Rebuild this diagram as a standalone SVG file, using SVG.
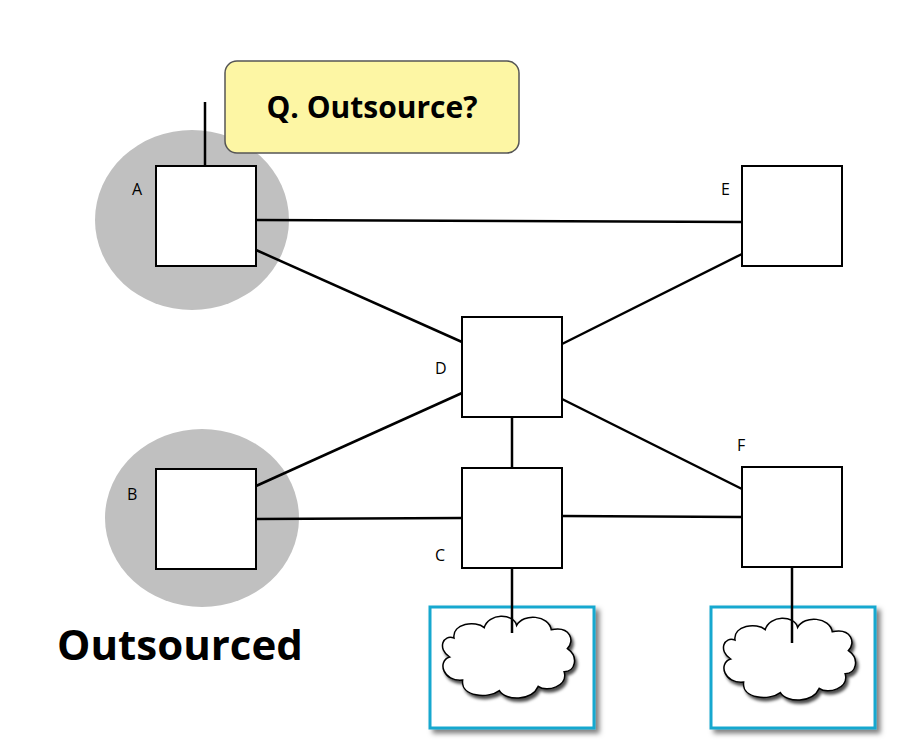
<svg xmlns="http://www.w3.org/2000/svg" width="901" height="751" viewBox="0 0 901 751">
<style>
.box{fill:#fff;stroke:#000;stroke-width:2}
.lbl{font-family:"Open Sans","Liberation Sans",sans-serif;font-size:16px;fill:#000}
.e{stroke:#000;stroke-width:2.5;fill:none}
.cb{fill:#fff;stroke:#16a8cf;stroke-width:3;filter:url(#sh)}
.cl{fill:#fff;stroke:#000;stroke-width:1.4;filter:url(#sh2)}
</style>
<defs>
<filter id="sh" x="-10%" y="-10%" width="130%" height="130%"><feDropShadow dx="4" dy="4" stdDeviation="2.5" flood-color="#000" flood-opacity="0.5"/></filter>
<filter id="sh2" x="-10%" y="-10%" width="130%" height="130%"><feDropShadow dx="2" dy="3" stdDeviation="1.5" flood-color="#000" flood-opacity="0.7"/></filter>
<path id="cloud" d="M-50,-18 C-52,-32 -30,-35 -22,-28 C-18,-42 5,-42 8,-30 C14,-42 38,-40 40,-26 C58,-30 62,-15 55,-8 C66,0 62,14 52,14 C56,28 36,34 28,28 C22,42 -2,42 -8,32 C-18,40 -44,38 -42,22 C-60,24 -66,4 -54,0 C-66,-8 -60,-22 -50,-18 Z"/>
</defs>
<rect width="901" height="751" fill="#fff"/>
<ellipse cx="192" cy="220" rx="97" ry="90" fill="#c0c0c0"/>
<ellipse cx="202" cy="518" rx="97" ry="89" fill="#c0c0c0"/>
<g id="callout"><rect x="225" y="61" width="294" height="92" rx="12" fill="#fdf6a4" stroke="#555" stroke-width="1.5"/>
<text x="372" y="118" text-anchor="middle" font-family="'Open Sans','Liberation Sans',sans-serif" font-size="30" font-weight="bold">Q. Outsource?</text></g>
<g id="cloud1"><rect class="cb" x="430" y="607" width="164" height="121"/><use href="#cloud" class="cl" transform="translate(508,657) scale(1.08,1.05)"/></g>
<g id="cloud2"><rect class="cb" x="711" y="607" width="164" height="121"/><use href="#cloud" class="cl" transform="translate(789,659) scale(1.08,1.05)"/></g>
<g id="connectors">
<line class="e" x1="205" y1="102" x2="205" y2="166"/>
<line class="e" x1="256" y1="220" x2="742" y2="222"/>
<line class="e" x1="256" y1="250" x2="462" y2="342"/>
<line class="e" x1="742" y1="254" x2="562" y2="344"/>
<line class="e" x1="462" y1="393" x2="256" y2="486"/>
<line class="e" x1="512" y1="417" x2="512" y2="468"/>
<line class="e" x1="562" y1="399" x2="742" y2="489"/>
<line class="e" x1="256" y1="519" x2="462" y2="518"/>
<line class="e" x1="562" y1="516" x2="742" y2="517"/>
<line class="e" x1="512" y1="568" x2="512" y2="633"/>
<line class="e" x1="792" y1="567" x2="792" y2="643"/>
</g>
<g id="A"><rect class="box" x="156" y="166" width="100" height="100"/><text class="lbl" x="132" y="195">A</text></g>
<g id="E"><rect class="box" x="742" y="166" width="100" height="100"/><text class="lbl" x="721" y="195">E</text></g>
<g id="D"><rect class="box" x="462" y="317" width="100" height="100"/><text class="lbl" x="435" y="374">D</text></g>
<g id="B"><rect class="box" x="156" y="469" width="100" height="100"/><text class="lbl" x="127" y="500">B</text></g>
<g id="C"><rect class="box" x="462" y="468" width="100" height="100"/><text class="lbl" x="435" y="561">C</text></g>
<g id="F"><rect class="box" x="742" y="467" width="100" height="100"/><text class="lbl" x="737" y="451">F</text></g>
<text x="57" y="660" font-family="'Open Sans','Liberation Sans',sans-serif" font-size="42" font-weight="bold">Outsourced</text>
</svg>
